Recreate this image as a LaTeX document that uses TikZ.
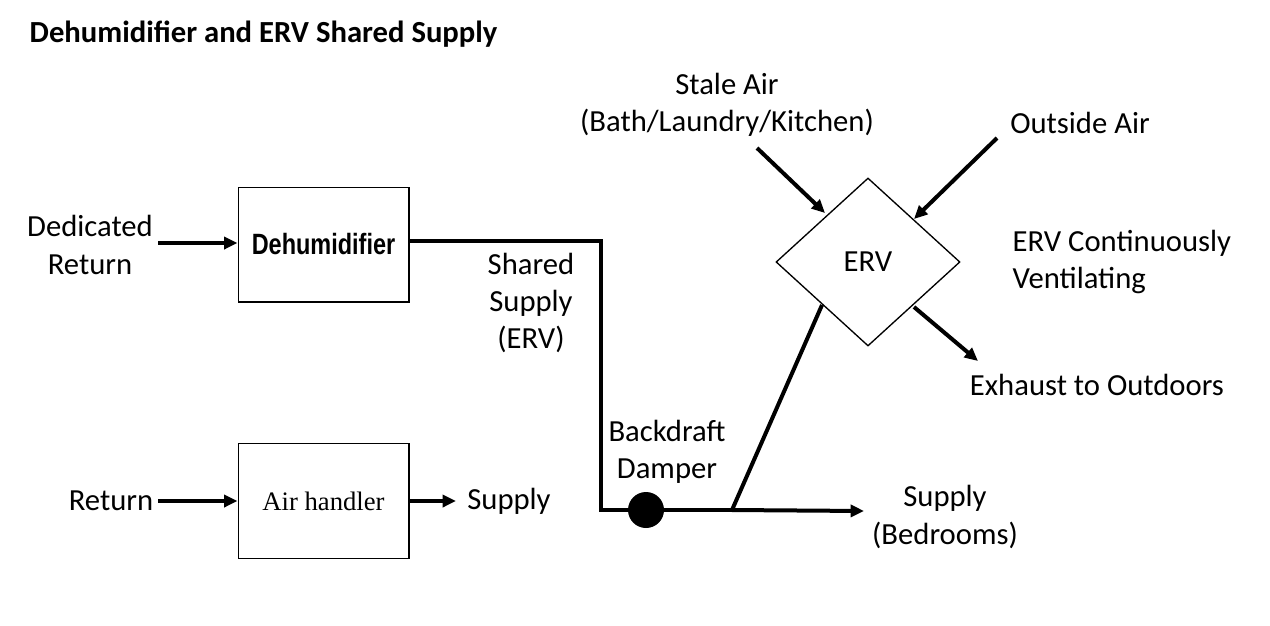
\documentclass[tikz,border=0pt]{standalone}
\usepackage{fontspec}
\setmainfont{Carlito}
\newfontfamily\tms{Liberation Serif}
\newfontfamily\ars{Liberation Sans}
\usetikzlibrary{arrows.meta,shapes.geometric}
\begin{document}
\begin{tikzpicture}[x=0.75pt,y=-0.75pt,
  ln/.style={line width=3pt},
  ar/.style={ln,-{Triangle[length=10pt,width=9pt]}},
  box/.style={draw,line width=1pt,minimum width=128pt,minimum height=86pt},
  lab/.style={font=\fontsize{23}{28}\selectfont,align=center}]
\useasboundingbox (0,0) rectangle (1270,625);
\node[anchor=west,font=\bfseries\fontsize{23}{28}\selectfont] (t) at (25,34) {Dehumidifier and ERV Shared Supply};
\node[box] (dh) at (323.5,244.5) {};
\node[font=\ars\bfseries\fontsize{22}{26}\selectfont] at (dh) {\scalebox{0.8}[1]{Dehumidifier}};
\node[box] (ah) at (323.5,501) {};
\node[font=\tms\fontsize{20}{24}\selectfont] at (ah) {Air handler};
\node[lab] (dr) at (90,245) {Dedicated\\Return};
\node[lab] (rt) at (111,501) {Return};
\node[lab] (sp) at (509,501) {Supply};
\coordinate (a1) at (158,243); \coordinate (a2) at (158,501);
\coordinate (a3) at (456,501);
\draw[ar] (a1) -- (dh.west |- a1);
\draw[ar] (a2) -- (ah.west |- a2);
\draw[ar] (ah.east |- a3) -- (a3);
\node[lab] (ss) at (531,303) {Shared\\Supply\\(ERV)};
\coordinate (c1) at (601,241); \coordinate (c2) at (601,510);
\coordinate (c3) at (864,511); \coordinate (j) at (732,510);
\draw[ln] (dh.east |- c1) -- (c1) -- (c2) -- (j);
\draw[ar] (j) -- (c3);
\node[circle,fill,inner sep=0pt,minimum size=27pt] (dm) at (646,510) {};
\node[lab] (bd) at (667,452) {Backdraft\\Damper};
\node[diamond,draw,line width=1pt,minimum width=138pt,minimum height=126pt,inner sep=0pt,font=\fontsize{23}{28}\selectfont] (erv) at (868,262) {ERV};
\coordinate (e1) at (822,305);
\draw[ln] (j) -- (e1);
\node[lab] (st) at (727,105) {Stale Air\\(Bath/Laundry/Kitchen)};
\node[lab] (oa) at (1080,123) {Outside Air};
\node[lab,align=left,anchor=west] (cv) at (1008,262) {ERV Continuously\\Ventilating};
\node[lab] (ex) at (1097,385) {Exhaust to Outdoors};
\node[lab] (sb) at (945,517) {Supply\\(Bedrooms)};
\coordinate (s1) at (757,148); \coordinate (s2) at (825,213);
\coordinate (o1) at (997,138); \coordinate (o2) at (914,219);
\coordinate (x1) at (914,307); \coordinate (x2) at (978,361);
\draw[ar] (s1) -- (s2);
\draw[ar] (o1) -- (o2);
\draw[ar] (x1) -- (x2);
\end{tikzpicture}
\end{document}
